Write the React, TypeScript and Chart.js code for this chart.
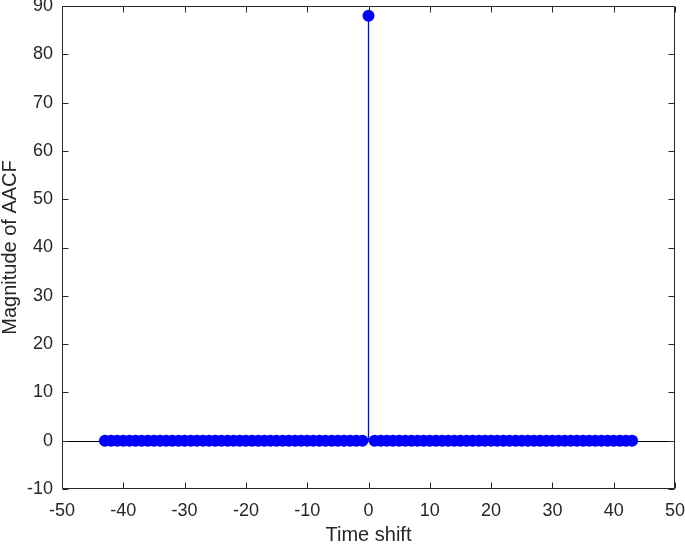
import React, { useEffect, useRef } from "react";
import { Chart, registerables } from "chart.js";

Chart.register(...registerables);

const lags = [
  -43, -42, -41, -40, -39, -38, -37, -36, -35, -34, -33, -32, -31, -30, -29, -28, -27, -26, -25, -24, -23, -22,
  -21, -20, -19, -18, -17, -16, -15, -14, -13, -12, -11, -10, -9, -8, -7, -6, -5, -4, -3, -2, -1,
  0,
  1, 2, 3, 4, 5, 6, 7, 8, 9, 10, 11, 12, 13, 14, 15, 16, 17, 18, 19, 20, 21, 22, 23, 24, 25, 26, 27, 28, 29, 30,
  31, 32, 33, 34, 35, 36, 37, 38, 39, 40, 41, 42, 43,
];

const magnitudes = [
  0, 0, 0, 0, 0, 0, 0, 0, 0, 0, 0, 0, 0, 0, 0, 0, 0, 0, 0, 0, 0, 0,
  0, 0, 0, 0, 0, 0, 0, 0, 0, 0, 0, 0, 0, 0, 0, 0, 0, 0, 0, 0, 0,
  88,
  0, 0, 0, 0, 0, 0, 0, 0, 0, 0, 0, 0, 0, 0, 0, 0, 0, 0, 0, 0, 0, 0, 0, 0, 0, 0, 0, 0, 0, 0,
  0, 0, 0, 0, 0, 0, 0, 0, 0, 0, 0, 0, 0,
];

const xTicks = [-50, -40, -30, -20, -10, 0, 10, 20, 30, 40, 50];
const yTicks = [-10, 0, 10, 20, 30, 40, 50, 60, 70, 80, 90];

const xTitle = "Time shift";
const yTitle = "Magnitude of AACF";

const AXIS_COLOR = "#262626";
const STEM_COLOR = "rgb(0,0,255)";
const FONT = "'Liberation Sans', Arial, Helvetica, sans-serif";

const stemPlugin = {
  id: "stemPlugin",
  beforeDatasetsDraw(chart: any) {
    const { ctx, chartArea, scales } = chart;
    const xs = scales.x;
    const ys = scales.y;
    const y0 = ys.getPixelForValue(0);
    ctx.save();
    ctx.strokeStyle = "#000000";
    ctx.lineWidth = 1;
    ctx.beginPath();
    ctx.moveTo(chartArea.left, Math.round(y0) + 0.5);
    ctx.lineTo(chartArea.right, Math.round(y0) + 0.5);
    ctx.stroke();
    ctx.strokeStyle = STEM_COLOR;
    ctx.lineWidth = 1.3;
    for (let i = 0; i < lags.length; i++) {
      const px = xs.getPixelForValue(lags[i]);
      const py = ys.getPixelForValue(magnitudes[i]);
      ctx.beginPath();
      ctx.moveTo(px, y0);
      ctx.lineTo(px, py);
      ctx.stroke();
    }
    ctx.restore();
  },
  afterDraw(chart: any) {
    const { ctx, chartArea, scales } = chart;
    const { left, right, top, bottom } = chartArea;
    const tl = 6;
    ctx.save();
    ctx.strokeStyle = AXIS_COLOR;
    ctx.lineWidth = 1;
    const L = Math.round(left) + 0.5;
    const R = Math.round(right) - 0.5;
    const T = Math.round(top) + 0.5;
    const B = Math.round(bottom) - 0.5;
    ctx.beginPath();
    ctx.rect(L, T, R - L, B - T);
    ctx.stroke();
    ctx.beginPath();
    for (const v of xTicks) {
      const px = Math.round(scales.x.getPixelForValue(v)) + 0.5;
      ctx.moveTo(px, B);
      ctx.lineTo(px, B - tl);
      ctx.moveTo(px, T);
      ctx.lineTo(px, T + tl);
    }
    for (const v of yTicks) {
      const py = Math.round(scales.y.getPixelForValue(v)) + 0.5;
      ctx.moveTo(L, py);
      ctx.lineTo(L + tl, py);
      ctx.moveTo(R, py);
      ctx.lineTo(R - tl, py);
    }
    ctx.stroke();
    ctx.restore();
  },
};

export default function App() {
  const canvasRef = useRef<HTMLCanvasElement | null>(null);

  useEffect(() => {
    if (!canvasRef.current) return;
    const points = lags.map((x, i) => ({ x, y: magnitudes[i] }));
    const chart = new Chart(canvasRef.current, {
      type: "scatter",
      data: {
        datasets: [
          {
            data: points,
            backgroundColor: STEM_COLOR,
            borderColor: STEM_COLOR,
            pointRadius: 6,
            pointHoverRadius: 6,
            borderWidth: 0,
            clip: false as any,
          },
        ],
      },
      options: {
        animation: false,
        responsive: false,
        maintainAspectRatio: false,
        devicePixelRatio: 1,
        layout: { padding: { top: 5, right: 10, left: 0, bottom: 0 } },
        plugins: {
          legend: { display: false },
          tooltip: { enabled: false },
        },
        scales: {
          x: {
            type: "linear",
            min: -50,
            max: 50,
            grid: { display: false, drawTicks: false },
            border: { display: false },
            ticks: {
              stepSize: 10,
              color: AXIS_COLOR,
              font: { family: FONT, size: 18 },
              padding: 11,
              maxRotation: 0,
              autoSkip: false,
            },
            title: {
              display: true,
              text: xTitle,
              color: AXIS_COLOR,
              font: { family: FONT, size: 20, lineHeight: 1 },
              padding: { top: 0, bottom: 0 },
            },
            afterFit(scale: any) {
              scale.height = 56;
              scale.paddingLeft = 0;
              scale.paddingRight = 0;
            },
          },
          y: {
            type: "linear",
            min: -10,
            max: 90,
            grid: { display: false, drawTicks: false },
            border: { display: false },
            ticks: {
              stepSize: 10,
              color: AXIS_COLOR,
              font: { family: FONT, size: 18 },
              padding: 9,
              autoSkip: false,
            },
            title: {
              display: true,
              text: yTitle,
              color: AXIS_COLOR,
              font: { family: FONT, size: 20, lineHeight: 1 },
              padding: { top: 0, bottom: 0 },
            },
            afterFit(scale: any) {
              scale.width = 62;
              scale.paddingTop = 0;
              scale.paddingBottom = 0;
            },
          },
        },
      },
      plugins: [stemPlugin],
    });
    return () => chart.destroy();
  }, []);

  return (
    <div style={{ position: "fixed", left: 0, top: 0, width: 685, height: 545, background: "#ffffff" }}>
      <canvas ref={canvasRef} width={685} height={545} style={{ width: 685, height: 545, display: "block" }} />
    </div>
  );
}
